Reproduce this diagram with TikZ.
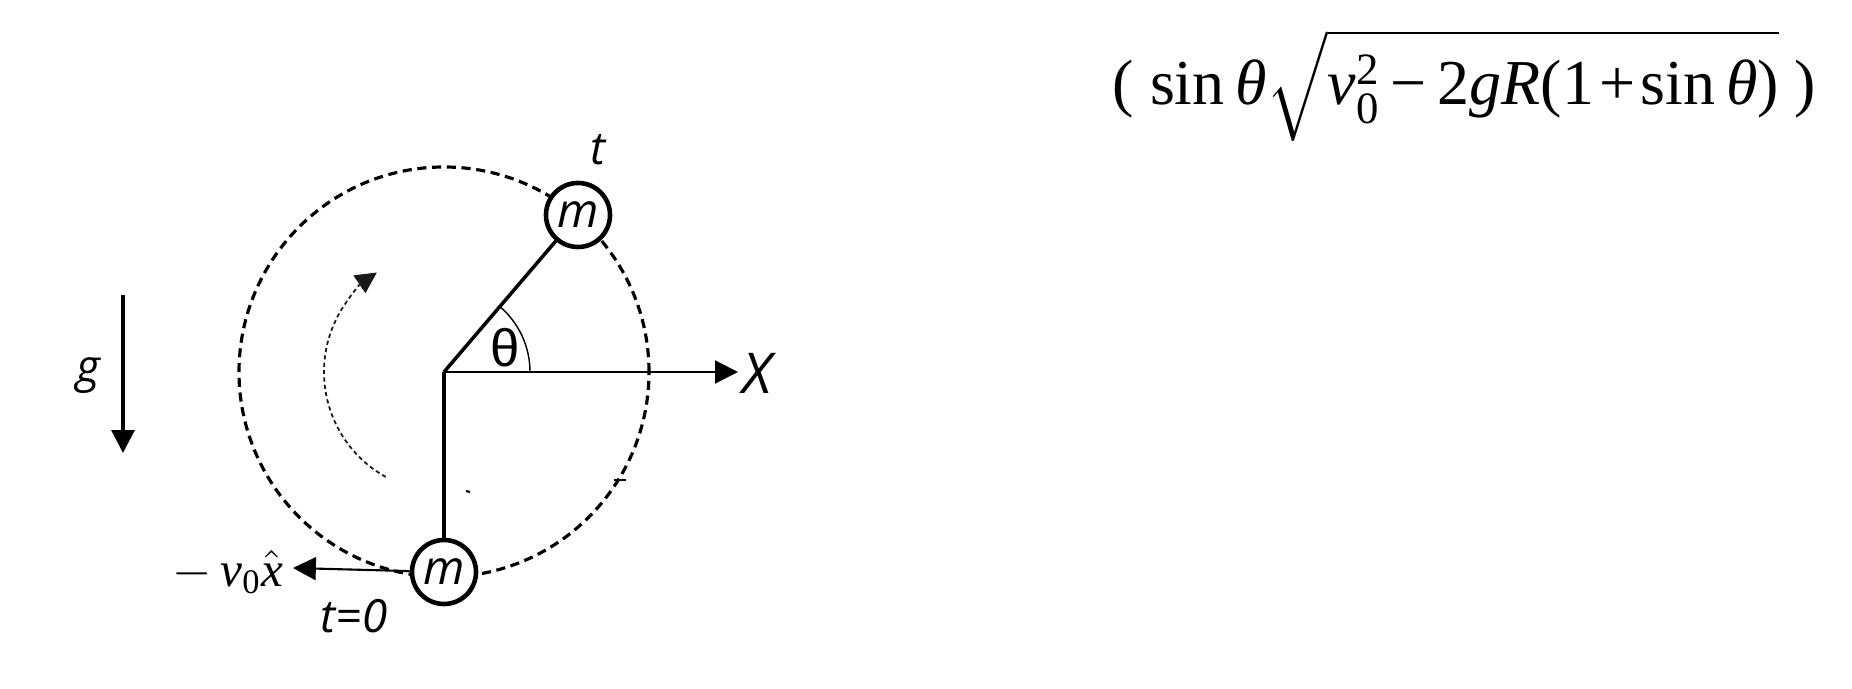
\documentclass[tikz,border=0pt]{standalone}
\usepackage{amsmath}
\usepackage{fontspec}
\setmainfont{Liberation Serif}
\newfontfamily\labelfont{Open Sans}
\newfontfamily\thetafont{Liberation Sans}
\usetikzlibrary{arrows.meta}

\begin{document}
\begin{tikzpicture}[x=0.01cm, y=0.01cm,
	mass/.style={circle, draw, line width=1.3pt, fill=white, minimum size=0.64cm, inner sep=0pt,
		font=\labelfont\itshape\fontsize{13.5}{13.5}\selectfont},
	lbl/.style={inner sep=0pt, font=\labelfont\itshape\fontsize{13}{13}\selectfont},
	rod/.style={line width=1pt},
	tip/.style={-{Triangle[length=6.5pt,width=6.5pt]}}
]
\useasboundingbox (0,0) rectangle (1852,688);
\def\RAD{205}
	\coordinate (O) at (444,316);
	% the circular path
	\draw[line width=0.9pt, dash pattern=on 2.6pt off 1.6pt] (O) circle[radius=\RAD];
	\draw[line width=0.4pt] (614,208) -- (626,208);
	\draw[line width=0.6pt] (466,197) -- (470,196);
	% the two masses
	\node[mass] (m1) at (578,473) {m};
	\node[mass] (m0) at (444,116) {m};
	\draw[rod] (O) -- (m1);
	\draw[rod] (O) -- (m0);
	% axis and angle
	\coordinate (xend) at (738,316);
	\draw[tip, line width=0.6pt] (O) -- (xend);
	\node[lbl, font=\labelfont\itshape\fontsize{16}{16}\selectfont] (xlab) at (757,315) {X};
	\draw[line width=0.4pt] (O) ++(0:86) arc[start angle=0, end angle=50, radius=86];
	\node[inner sep=0pt, font=\thetafont\fontsize{15}{15}\selectfont] (thlab) at (505,340) {θ};
	% sense of rotation
	\draw[-{Triangle[length=6pt,width=6pt]}, line width=0.5pt, gray!20!black, dash pattern=on 1.2pt off 0.9pt]
		(O) ++(241:120) arc[start angle=241, end angle=124, radius=120];
	% gravity
	\coordinate (gtop) at (123,393);
	\coordinate (gbot) at (123,235);
	\draw[tip, line width=0.9pt] (gtop) -- (gbot);
	\node[lbl] (glab) at (88,312) {g};
	% times and initial velocity
	\node[lbl] (tlab) at (598,538) {t};
	\node[lbl] (t0lab) at (354,72) {t=0};
	\coordinate (vtip) at (293,120);
	\draw[tip, line width=0.6pt] (m0) -- (vtip);
	\node[anchor=east, inner sep=0pt, font=\fontsize{14}{14}\selectfont] (vlab) at (284,116)
		{$-\,\text{\textit{v}}_{\text{0}}\hat{\text{\textit{x}}}$};
	% formula
	\node[anchor=base west, inner sep=0pt, font=\fontsize{18.2}{18.2}\selectfont] (formula) at (1112,583)
		{( sin\,\textit{θ}$\sqrt{\text{\textit{v}}^{\text{2}}_{\text{0}}\text{\,−\,2\textit{gR}(1\kern1.5pt+\kern1.5pt sin\,\textit{θ})}}$ )};
\end{tikzpicture}
\end{document}
